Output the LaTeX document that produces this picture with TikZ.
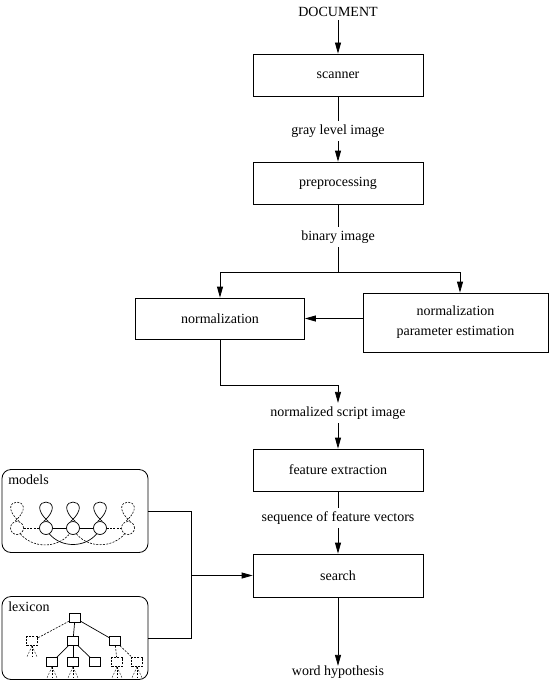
\documentclass[tikz,border=0pt]{standalone}
\usepackage{fontspec}
\setmainfont{Liberation Serif}
\usetikzlibrary{arrows.meta}

\begin{document}
\begin{tikzpicture}[x=1pt, y=1pt, line width=0.8pt, font=\fontsize{14}{16}\selectfont,
        >={Triangle[length=11pt,width=6pt]},
        stage/.style={draw, rectangle, minimum width=170pt, minimum height=42pt, inner sep=0pt},
        panel/.style={draw, rectangle, rounded corners=9pt, minimum width=146pt, minimum height=83pt},
        hidden/.style={dash pattern=on 2pt off 1.3pt, line width=0.6pt},
        state/.style={draw, circle, minimum size=13pt, inner sep=0pt, line width=0.7pt},
        leaf/.style={draw, rectangle, minimum width=11pt, minimum height=9pt, inner sep=0pt, line width=0.7pt}]
            \useasboundingbox (0,0) rectangle (550,-682);
            % main chain
            \node (doc) at (338,-12) {DOCUMENT};
            \node[stage] (scanner) at (338,-75) {scanner};
            \node (gray) at (338,-131) {gray level image};
            \node[stage] (prep) at (338,-183) {preprocessing};
            \node (binary) at (338,-237) {binary image};
            \coordinate (split) at (338,-272);
            \node[stage, minimum width=169pt, minimum height=41pt] (norm) at (220,-318.5) {normalization};
            \node[stage, minimum width=185pt, minimum height=59pt, align=center] (param) at (455.5,-322.5) {normalization\\[4pt] parameter estimation};
            \coordinate (bend) at (220,-385);
            \node (normimg) at (338,-413) {normalized script image};
            \node[stage] (feat) at (338,-470) {feature extraction};
            \node (featvec) at (338,-518) {sequence of feature vectors};
            \node[stage, minimum height=43pt] (search) at (338,-575.5) {search};
            \node (word) at (338,-672) {word hypothesis};

            \draw[->] (doc) -- (scanner);
            \draw (scanner) -- (gray);
            \draw[->] (gray) -- (prep);
            \draw (prep) -- (binary);
            \draw (binary) -- (split);
            \draw[->] (split) -| (norm);
            \draw[->] (split) -| ([xshift=4.5pt]param.north);
            \draw[->] (norm.east -| param.west) -- (norm.east);
            \draw (norm) -- (bend);
            \draw[->] (bend) -| (normimg);
            \draw[->] (normimg) -- (feat);
            \draw (feat) -- (featvec);
            \draw[->] (featvec) -- (search);
            \draw[->] (search) -- ([yshift=-4pt]word.north);

            % knowledge sources
            \node[panel] (models) at (75,-511) {};
            \node[anchor=north west] at ([xshift=3pt,yshift=-2pt]models.north west) {models};
            \node[panel] (lexicon) at (75,-638) {};
            \node[anchor=north west] at ([xshift=3pt,yshift=-2pt]lexicon.north west) {lexicon};
            \coordinate (join) at (191,-575.5);
            \draw (models.east) -| (join);
            \draw (lexicon.east) -| (join);
            \draw[->] (join) -- (search.west);

            % word model
            \node[state, hidden] (s0) at (17,-528) {};
            \node[state] (s1) at (46,-528) {};
            \node[state] (s2) at (73,-528) {};
            \node[state] (s3) at (100,-528) {};
            \node[state, hidden] (s4) at (128,-528) {};
            \foreach \s in {s1,s2,s3}
                \draw[line width=0.7pt] (\s.70) .. controls +(-28,26) and +(28,26) .. (\s.110);
            \foreach \s in {s0,s4}
                \draw[hidden] (\s.70) .. controls +(-28,26) and +(28,26) .. (\s.110);
            \draw[hidden] (s0) -- (s1);
            \draw[line width=0.7pt] (s1) -- (s2) -- (s3);
            \draw[hidden] (s3) -- (s4);
            \draw[hidden] (s0.-60) to[out=-50,in=-130] (s2.-120);
            \draw[line width=0.7pt] (s1.-60) to[out=-50,in=-130] (s3.-120);
            \draw[hidden] (s2.-60) to[out=-50,in=-130] (s4.-120);

            % lexicon tree
            \node[leaf] (r) at (75,-618) {};
            \node[leaf, hidden] (a) at (32,-641) {};
            \node[leaf] (b) at (73,-641) {};
            \node[leaf] (c) at (115,-641) {};
            \node[leaf] (d) at (52,-662) {};
            \node[leaf] (e) at (73,-662) {};
            \node[leaf] (f) at (95,-662) {};
            \node[leaf, hidden] (g) at (117,-662) {};
            \node[leaf, hidden] (h) at (137,-662) {};
            \draw[hidden] (r) -- (a);
            \draw[line width=0.7pt] (r) -- (b);
            \draw[line width=0.7pt] (r) -- (c);
            \foreach \n in {d,e,f}
                \draw[line width=0.7pt] (b) -- (\n);
            \foreach \n in {g,h}
                \draw[hidden] (c) -- (\n);
            \foreach \n in {a,d,e,g,h}
                \foreach \dx in {-5,0,5}
                    \draw[hidden, line width=0.4pt] (\n.south) -- ++(\dx,-11);
        \end{tikzpicture}
\end{document}
